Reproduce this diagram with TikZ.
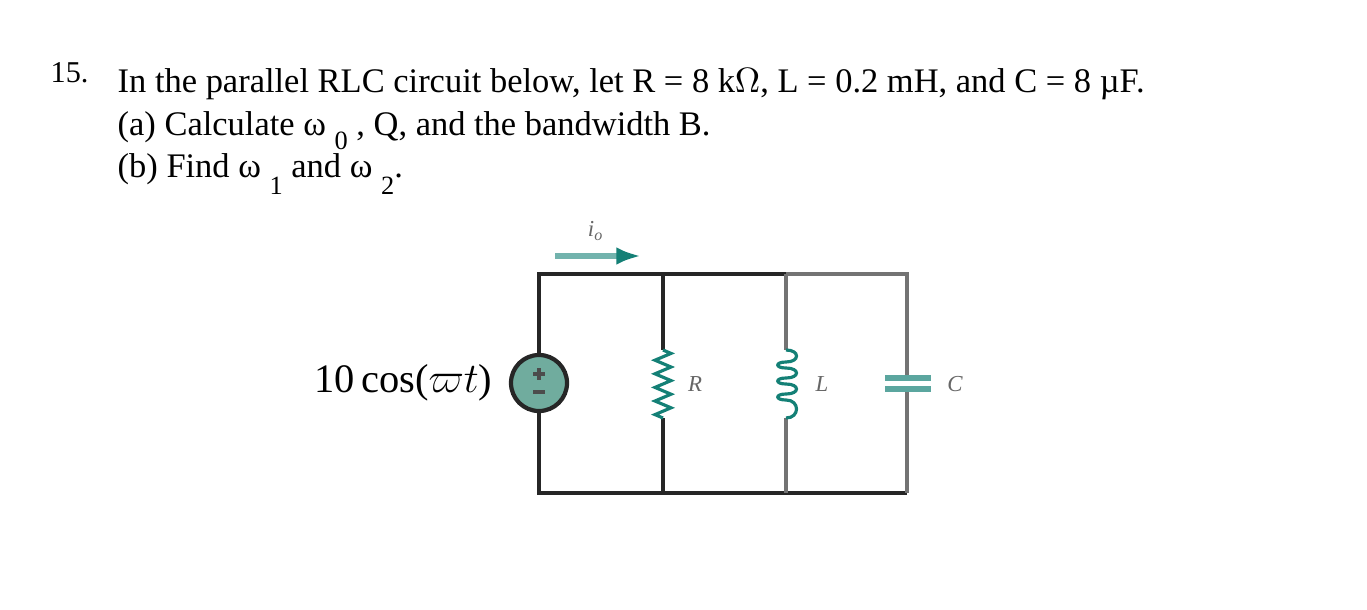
\documentclass[tikz,border=0pt]{standalone}
\usepackage{fontspec}
\setmainfont{Liberation Serif}
\usetikzlibrary{decorations.pathmorphing,arrows.meta,calc}
\definecolor{teal1}{RGB}{20,128,118}
\definecolor{srcfill}{RGB}{112,172,158}
\tikzset{
  txt/.style={anchor=base west,inner sep=0pt,font=\fontsize{9.8pt}{11pt}\selectfont},
  wire/.style={line width=1.2pt,draw=black!85},
  gwire/.style={line width=1.2pt,draw=black!55},
  comp/.style={teal1,line width=0.9pt},
  lab/.style={font=\fontsize{6.5pt}{7pt}\selectfont\itshape,text=black!60}
}
\begin{document}
\begin{tikzpicture}[x=0.01cm,y=-0.01cm]
\useasboundingbox (0,0) rectangle (1367,609);
\node[txt,font=\fontsize{8.6pt}{10pt}\selectfont] (n15) at (50,82) {15.};
\node[txt] (l1) at (117,92) {In the parallel RLC circuit below, let R = 8 k$\Omega$, L = 0.2 mH, and C = 8 µF.};
\node[txt] (l2) at (117,135) {(a) Calculate ω \raisebox{-4pt}{\fontsize{7.5pt}{8pt}\selectfont 0} , Q, and the bandwidth B.};
\node[txt] (l3) at (117,177) {(b) Find ω \raisebox{-5pt}{\fontsize{7.5pt}{8pt}\selectfont 1} and ω \raisebox{-5pt}{\fontsize{7.5pt}{8pt}\selectfont 2}.};
% nodes
\coordinate (tl) at (539,274); \coordinate (bl) at (539,493);
\coordinate (tr) at (663,274); \coordinate (br) at (663,493);
\coordinate (tlL) at (786,274); \coordinate (blL) at (786,493);
\coordinate (tc) at (907,274); \coordinate (bc) at (907,493);
\coordinate (r1) at (663,350); \coordinate (r2) at (663,418);
\coordinate (i1) at (786,350); \coordinate (i2) at (786,418);
\coordinate (c1) at (907,378); \coordinate (c2) at (907,389);
\node[circle,draw=black!85,line width=1.2pt,fill=srcfill,minimum size=0.56cm,inner sep=0pt] (src) at (539,383) {};
\draw[black!70,line width=1pt] ($(src.center)+(0,-15)$) -- ($(src.center)+(0,-3)$) ($(src.center)+(-6,-9)$) -- ($(src.center)+(6,-9)$) ($(src.center)+(-6,9)$) -- ($(src.center)+(6,9)$);
% wires
\draw[wire] (src.north) -- (tl) -- (tlL);
\draw[gwire] (tlL) -- (tc) -- (c1);
\draw[wire] (src.south) -- (bl) -- (bc);
\draw[gwire] (bc) -- (c2);
\draw[wire] (tr) -- (r1) (r2) -- (br);
\draw[gwire] (tlL) -- (i1) (i2) -- (blL);
% resistor
\draw[comp] (r1) -- ++(8,3.4) -- ++(-16,6.8) -- ++(16,6.8) -- ++(-16,6.8) -- ++(16,6.8) -- ++(-16,6.8) -- ++(16,6.8) -- ++(-16,6.8) -- ++(16,6.8) -- ++(-16,6.8) -- (r2);
% inductor
\draw[comp] (i1) .. controls (800,350) and (800,362) .. (786,362)
  .. controls (775,362) and (775,368) .. (786,368) .. controls (800,368) and (800,378) .. (786,378)
  .. controls (775,378) and (775,384) .. (786,384) .. controls (800,384) and (800,394) .. (786,394)
  .. controls (775,394) and (775,400) .. (786,400) .. controls (800,400) and (800,418) .. (i2);
% capacitor
\draw[teal1!70,line width=1.6pt] (885,378) -- (931,378) (885,389) -- (931,389);
\node[lab] (lR) at (695,384) {R};
\node[lab] (lL) at (822,384) {L};
\node[lab] (lC) at (955,384) {C};
% current arrow
\coordinate (a1) at (555,256); \coordinate (a2) at (641,256);
\draw[teal1!60,line width=1.5pt,-{Latex[length=7pt,width=5pt,color=teal1]}] (a1) -- (a2);
\node[lab] (io) at (596,231) {i$_{\mathit o}$};
\node[anchor=east,inner sep=0pt,font=\fontsize{11.5pt}{12pt}\selectfont] (vs) at (493,383) {10\,cos($\varpi t$)};
\end{tikzpicture}
\end{document}
